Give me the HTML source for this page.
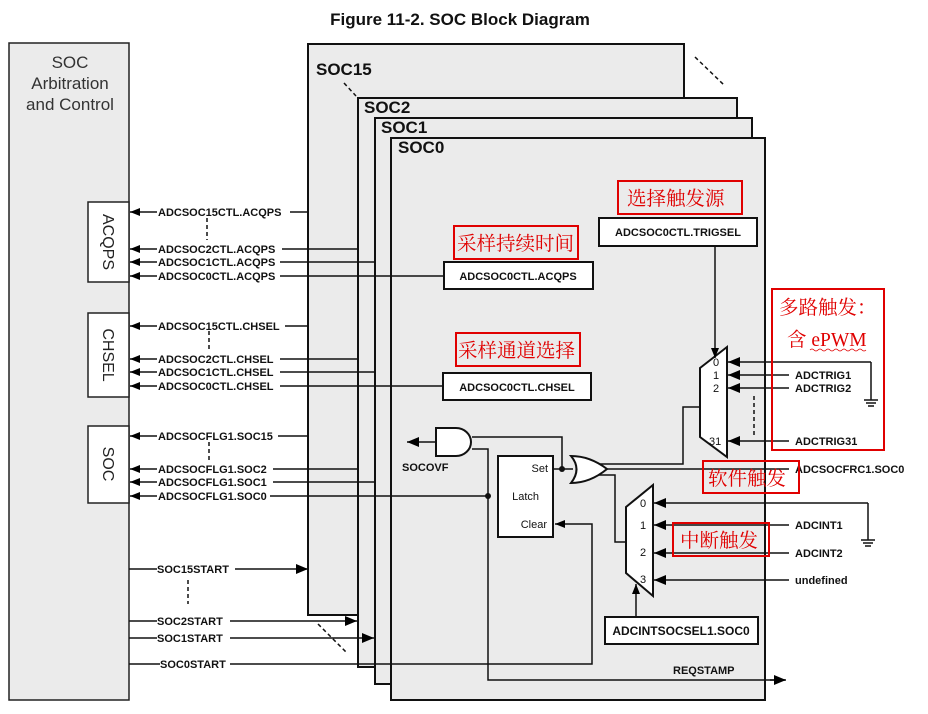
<!DOCTYPE html>
<html><head><meta charset="utf-8"><style>
html,body{margin:0;padding:0;background:#fff;}
svg{display:block;}
.b{font-family:"Liberation Sans",Arial,sans-serif;font-weight:bold;font-size:11px;fill:#111;}
.n{font-family:"Liberation Sans",Arial,sans-serif;font-size:11px;fill:#111;}
.r{font-family:"Liberation Serif","Noto Serif CJK SC","Noto Sans CJK SC",serif;font-size:19.5px;fill:#e00000;}
</style></head><body>
<svg width="928" height="714" viewBox="0 0 928 714" xmlns="http://www.w3.org/2000/svg">
<defs>
<marker id="a" markerWidth="10" markerHeight="8" refX="10" refY="4" orient="auto" markerUnits="userSpaceOnUse"><path d="M0,0 L10,4 L0,8 z" fill="#000"/></marker>
<marker id="as" markerWidth="12" markerHeight="10" refX="12" refY="5" orient="auto" markerUnits="userSpaceOnUse"><path d="M0,0 L12,5 L0,10 z" fill="#000"/></marker>
</defs>
<text x="460" y="25" text-anchor="middle" style="font-family:'Liberation Sans',Arial,sans-serif;font-weight:bold;font-size:17px" fill="#111">Figure 11-2. SOC Block Diagram</text>

<rect x="9" y="43" width="120" height="657" fill="#ebebeb" stroke="#222" stroke-width="1.5"/>
<g style="font-family:'Liberation Sans',Arial,sans-serif;font-size:17px" fill="#333" text-anchor="middle">
<text x="70" y="68">SOC</text><text x="70" y="89">Arbitration</text><text x="70" y="110">and Control</text></g>
<rect x="88" y="202" width="41" height="80" fill="#fff" stroke="#222" stroke-width="1.5"/>
<rect x="88" y="313" width="41" height="84" fill="#fff" stroke="#222" stroke-width="1.5"/>
<rect x="88" y="426" width="41" height="77" fill="#fff" stroke="#222" stroke-width="1.5"/>
<g style="font-family:'Liberation Sans',Arial,sans-serif;font-size:16px" fill="#222" text-anchor="middle">
<text transform="translate(103,242) rotate(90)">ACQPS</text>
<text transform="translate(103,355) rotate(90)">CHSEL</text>
<text transform="translate(103,464) rotate(90)">SOC</text></g>

<rect x="308" y="44" width="376" height="571" fill="#ebebeb" stroke="#111" stroke-width="2"/>
<rect x="358" y="98" width="379" height="569" fill="#ebebeb" stroke="#111" stroke-width="2"/>
<rect x="375" y="118" width="377" height="566" fill="#ebebeb" stroke="#111" stroke-width="2"/>
<rect x="391" y="138" width="374" height="562" fill="#ebebeb" stroke="#111" stroke-width="2"/>
<g style="font-family:'Liberation Sans',Arial,sans-serif;font-weight:bold;font-size:17px" fill="#111">
<text x="316" y="75">SOC15</text><text x="364" y="113">SOC2</text><text x="381" y="133">SOC1</text><text x="398" y="153">SOC0</text></g>
<g stroke="#111" stroke-width="1.5" stroke-dasharray="4,3">
<line x1="344" y1="83" x2="356" y2="96"/><line x1="695" y1="57" x2="724" y2="85"/><line x1="318" y1="624" x2="347" y2="653"/>
<line x1="207" y1="218" x2="207" y2="240"/><line x1="209" y1="331" x2="209" y2="352"/><line x1="209" y1="442" x2="209" y2="462"/><line x1="188" y1="580" x2="188" y2="604"/>
<line x1="754" y1="396" x2="754" y2="435"/><line x1="703" y1="400" x2="703" y2="425"/>
</g>

<g stroke="#111" stroke-width="1.5" fill="none" marker-end="url(#a)">
<line x1="157" y1="212" x2="130" y2="212"/><line x1="157" y1="249" x2="130" y2="249"/><line x1="157" y1="262" x2="130" y2="262"/><line x1="157" y1="276" x2="130" y2="276"/>
<line x1="157" y1="326" x2="130" y2="326"/><line x1="157" y1="359" x2="130" y2="359"/><line x1="157" y1="372" x2="130" y2="372"/><line x1="157" y1="386" x2="130" y2="386"/>
<line x1="157" y1="436" x2="130" y2="436"/><line x1="157" y1="469" x2="130" y2="469"/><line x1="157" y1="482" x2="130" y2="482"/><line x1="157" y1="496" x2="130" y2="496"/>
</g>
<g stroke="#111" stroke-width="1.5" fill="none">
<line x1="290" y1="212" x2="308" y2="212"/><line x1="282" y1="249" x2="358" y2="249"/><line x1="280" y1="262" x2="375" y2="262"/><line x1="280" y1="276" x2="444" y2="276"/>
<line x1="285" y1="326" x2="308" y2="326"/><line x1="280" y1="359" x2="358" y2="359"/><line x1="280" y1="372" x2="375" y2="372"/><line x1="280" y1="386" x2="443" y2="386"/>
<line x1="278" y1="436" x2="308" y2="436"/><line x1="273" y1="469" x2="358" y2="469"/><line x1="273" y1="482" x2="375" y2="482"/><line x1="270" y1="496" x2="488" y2="496"/>
<line x1="129" y1="569" x2="157" y2="569"/><line x1="129" y1="621" x2="157" y2="621"/><line x1="129" y1="638" x2="157" y2="638"/><line x1="129" y1="664" x2="160" y2="664"/>
<polyline points="230,664 592,664 592,524 555,524" marker-end="url(#a)"/>
<line x1="235" y1="569" x2="308" y2="569" marker-end="url(#as)"/>
<line x1="230" y1="621" x2="357" y2="621" marker-end="url(#as)"/>
<line x1="230" y1="638" x2="374" y2="638" marker-end="url(#as)"/>
</g>
<g class="b">
<text x="158" y="216">ADCSOC15CTL.ACQPS</text><text x="158" y="253">ADCSOC2CTL.ACQPS</text><text x="158" y="266">ADCSOC1CTL.ACQPS</text><text x="158" y="280">ADCSOC0CTL.ACQPS</text>
<text x="158" y="330">ADCSOC15CTL.CHSEL</text><text x="158" y="363">ADCSOC2CTL.CHSEL</text><text x="158" y="376">ADCSOC1CTL.CHSEL</text><text x="158" y="390">ADCSOC0CTL.CHSEL</text>
<text x="158" y="440">ADCSOCFLG1.SOC15</text><text x="158" y="473">ADCSOCFLG1.SOC2</text><text x="158" y="486">ADCSOCFLG1.SOC1</text><text x="158" y="500">ADCSOCFLG1.SOC0</text>
<text x="157" y="573">SOC15START</text><text x="157" y="625">SOC2START</text><text x="157" y="642">SOC1START</text><text x="160" y="668">SOC0START</text>
</g>

<g fill="#fff" stroke="#111" stroke-width="2">
<rect x="599" y="218" width="158" height="28"/><rect x="444" y="262" width="149" height="27"/><rect x="443" y="373" width="148" height="27"/><rect x="605" y="617" width="153" height="27"/>
<rect x="498" y="456" width="55" height="81"/>
</g>
<g class="b" text-anchor="middle">
<text x="678" y="236">ADCSOC0CTL.TRIGSEL</text><text x="518" y="280">ADCSOC0CTL.ACQPS</text><text x="517" y="391">ADCSOC0CTL.CHSEL</text><text x="681" y="635" font-size="12">ADCINTSOCSEL1.SOC0</text>
</g>
<g class="n" text-anchor="end"><text x="548" y="472">Set</text><text x="539" y="500">Latch</text><text x="547" y="528">Clear</text></g>

<polygon points="700,368 727,347 727,457 700,437" fill="#fff" stroke="#111" stroke-width="2"/>
<polygon points="626,507 653,485 653,596 626,573" fill="#fff" stroke="#111" stroke-width="2"/>
<g class="n" font-size="10.5"><text x="713" y="366">0</text><text x="713" y="379">1</text><text x="713" y="392">2</text><text x="709" y="445">31</text>
<text x="640" y="507">0</text><text x="640" y="529">1</text><text x="640" y="556">2</text><text x="640" y="583">3</text></g>
<g stroke="#111" stroke-width="1.5" fill="none">
<line x1="715" y1="246" x2="715" y2="358" marker-end="url(#a)"/>
<polyline points="871,362 871,400" /><line x1="864" y1="400" x2="878" y2="400"/><line x1="866" y1="403" x2="876" y2="403"/><line x1="868" y1="406" x2="874" y2="406"/>
<line x1="871" y1="362" x2="728" y2="362" marker-end="url(#as)"/>
<line x1="789" y1="375" x2="728" y2="375" marker-end="url(#as)"/>
<line x1="789" y1="388" x2="728" y2="388" marker-end="url(#as)"/>
<line x1="789" y1="441" x2="728" y2="441" marker-end="url(#as)"/>
<polyline points="868,503 868,540"/><line x1="861" y1="540" x2="875" y2="540"/><line x1="863" y1="543" x2="873" y2="543"/><line x1="865" y1="546" x2="871" y2="546"/>
<line x1="868" y1="503" x2="654" y2="503" marker-end="url(#as)"/>
<line x1="789" y1="525" x2="654" y2="525" marker-end="url(#as)"/>
<line x1="789" y1="553" x2="654" y2="553" marker-end="url(#as)"/>
<line x1="789" y1="580" x2="654" y2="580" marker-end="url(#as)"/>
<line x1="636" y1="617" x2="636" y2="584" marker-end="url(#a)"/>
<polyline points="598,464 683,464 683,407 700,407"/>
<line x1="600" y1="469" x2="789" y2="469"/>
<polyline points="598,475 615,475 615,542 626,542"/>
<line x1="553" y1="469" x2="573" y2="469"/>
<polyline points="472,437 562,437 562,469"/>
<polyline points="472,449 488,449 488,680 785,680" />
<line x1="436" y1="442" x2="407" y2="442" marker-end="url(#as)"/>
</g>
<line x1="770" y1="680" x2="786" y2="680" stroke="#111" stroke-width="1.5" marker-end="url(#as)"/>
<circle cx="562" cy="469" r="3" fill="#111"/><circle cx="488" cy="496" r="3" fill="#111"/>
<path d="M436,428 L456,428 A15,14 0 0 1 456,456 L436,456 Z" fill="#fff" stroke="#111" stroke-width="2"/>
<path d="M571,456 Q590,456 607,469 Q590,483 571,483 Q582,469 571,456 Z" fill="#fff" stroke="#111" stroke-width="2"/>
<g class="b">
<text x="402" y="471">SOCOVF</text><text x="673" y="674">REQSTAMP</text>
<text x="795" y="379">ADCTRIG1</text><text x="795" y="392">ADCTRIG2</text><text x="795" y="445">ADCTRIG31</text>
<text x="795" y="473">ADCSOCFRC1.SOC0</text>
<text x="795" y="529">ADCINT1</text><text x="795" y="557">ADCINT2</text><text x="795" y="584">undefined</text>
</g>

<g fill="none" stroke="#e00000" stroke-width="2">
<rect x="618" y="181" width="124" height="33"/><rect x="454" y="226" width="124" height="33"/><rect x="456" y="333" width="124" height="33"/>
<rect x="772" y="289" width="112" height="161"/><rect x="703" y="461" width="96" height="32"/><rect x="673" y="523" width="96" height="33"/>
</g>
<g class="r">
<text x="627" y="205">选择触发源</text><text x="457" y="250">采样持续时间</text><text x="458" y="357">采样通道选择</text>
<text x="779" y="314">多路触发：</text><text x="787" y="346">含 ePWM</text>
<text x="708" y="485">软件触发</text><text x="680" y="547">中断触发</text>
</g>
<path d="M810,350 q2,-2 4,0 t4,0 t4,0 t4,0 t4,0 t4,0 t4,0 t4,0 t4,0 t4,0 t4,0 t4,0 t4,0 t4,0" fill="none" stroke="#e00000" stroke-width="0.8"/>
</svg>
</body></html>
